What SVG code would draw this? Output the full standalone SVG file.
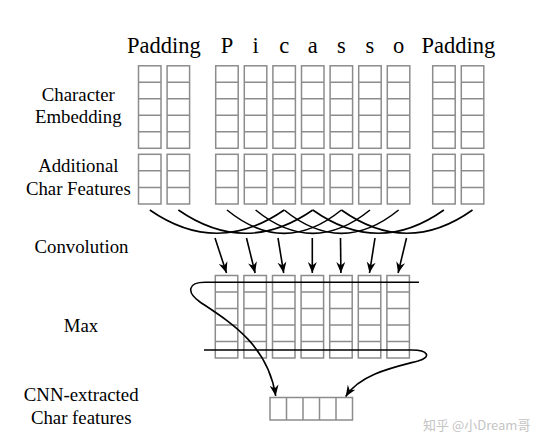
<svg xmlns="http://www.w3.org/2000/svg" xmlns:xlink="http://www.w3.org/1999/xlink" width="542" height="447" viewBox="0 0 542 447">
<style>
.cell{fill:none;stroke:#8c8c8c;stroke-width:1.5}
.lbl{font-family:"Liberation Serif","Times New Roman",serif;font-size:18.8px;fill:#000;text-anchor:middle}
.top{font-family:"Liberation Serif","Times New Roman",serif;font-size:22.5px;fill:#000;text-anchor:middle}
.conn{fill:none;stroke:#000;stroke-width:1.6}
.wm{font-family:"Noto Sans CJK SC","Noto Sans",sans-serif;font-size:13px;fill:#c4c4c4}
</style>
<defs>
<g id="col5" class="cell"><rect x="0" y="0" width="22.5" height="82.5"/><path d="M0,16.5H22.5M0,33H22.5M0,49.5H22.5M0,66H22.5"/></g>
<g id="col3" class="cell"><rect x="0" y="0" width="22.5" height="49.7"/><path d="M0,16.57H22.5M0,33.13H22.5"/></g>
<marker id="ah" viewBox="-11 -5 12 10" markerWidth="12" markerHeight="10" refX="0" refY="0" orient="auto" markerUnits="userSpaceOnUse">
<path d="M0,0 L-11,-4.5 L-7.5,0 L-11,4.5 Z" fill="#000"/>
</marker>
</defs>
<rect width="542" height="447" fill="#fff"/>

<g id="labels">
<text class="top" x="164" y="53.3">Padding</text>
<text class="top" x="227" y="53.3">P</text>
<text class="top" x="255.6" y="53.3">i</text>
<text class="top" x="284.2" y="53.3">c</text>
<text class="top" x="312.8" y="53.3">a</text>
<text class="top" x="341.4" y="53.3">s</text>
<text class="top" x="370" y="53.3">s</text>
<text class="top" x="398.6" y="53.3">o</text>
<text class="top" x="458.5" y="53.3">Padding</text>
<text class="lbl" x="78.3" y="100.7">Character</text>
<text class="lbl" x="78.3" y="123.3">Embedding</text>
<text class="lbl" x="78.3" y="171.7">Additional</text>
<text class="lbl" x="78.3" y="195">Char Features</text>
<text class="lbl" x="81.5" y="253.3">Convolution</text>
<text class="lbl" x="81" y="331.7">Max</text>
<text class="lbl" x="81.2" y="400.7">CNN-extracted</text>
<text class="lbl" x="81.2" y="424">Char features</text>
</g>

<g id="embedding">
<use xlink:href="#col5" x="138.5" y="65.8"/>
<use xlink:href="#col5" x="167.1" y="65.8"/>
<use xlink:href="#col5" x="215.7" y="65.8"/>
<use xlink:href="#col5" x="244.3" y="65.8"/>
<use xlink:href="#col5" x="272.9" y="65.8"/>
<use xlink:href="#col5" x="301.5" y="65.8"/>
<use xlink:href="#col5" x="330.1" y="65.8"/>
<use xlink:href="#col5" x="358.7" y="65.8"/>
<use xlink:href="#col5" x="387.3" y="65.8"/>
<use xlink:href="#col5" x="432.7" y="65.8"/>
<use xlink:href="#col5" x="461.3" y="65.8"/>
</g>

<g id="additional">
<use xlink:href="#col3" x="138.5" y="154.3"/>
<use xlink:href="#col3" x="167.1" y="154.3"/>
<use xlink:href="#col3" x="215.7" y="154.3"/>
<use xlink:href="#col3" x="244.3" y="154.3"/>
<use xlink:href="#col3" x="272.9" y="154.3"/>
<use xlink:href="#col3" x="301.5" y="154.3"/>
<use xlink:href="#col3" x="330.1" y="154.3"/>
<use xlink:href="#col3" x="358.7" y="154.3"/>
<use xlink:href="#col3" x="387.3" y="154.3"/>
<use xlink:href="#col3" x="432.7" y="154.3"/>
<use xlink:href="#col3" x="461.3" y="154.3"/>
</g>

<g id="convolution">
<use xlink:href="#col5" x="215.3" y="275.5"/>
<use xlink:href="#col5" x="243.9" y="275.5"/>
<use xlink:href="#col5" x="272.5" y="275.5"/>
<use xlink:href="#col5" x="301.1" y="275.5"/>
<use xlink:href="#col5" x="329.7" y="275.5"/>
<use xlink:href="#col5" x="358.3" y="275.5"/>
<use xlink:href="#col5" x="386.9" y="275.5"/>
</g>

<g id="cnn-output" class="cell">
<rect x="270" y="397.5" width="82.5" height="22.5"/>
<path d="M286.5,397.5V420M303,397.5V420M319.5,397.5V420M336,397.5V420"/>
</g>

<g id="connectors">
<path class="conn" d="M149.8,210 Q217,256.6 284.2,210"/>
<path class="conn" d="M178.4,210 Q245.6,256.6 312.8,210"/>
<path class="conn" d="M227,210 Q284.2,256.6 341.4,210"/>
<path class="conn" d="M255.6,210 Q312.8,256.6 370,210"/>
<path class="conn" d="M284.2,210 Q341.4,256.6 398.6,210"/>
<path class="conn" d="M312.8,210 Q378.3,256.6 443.9,210"/>
<path class="conn" d="M341.4,210 Q407,256.6 472.5,210"/>
<path class="conn" marker-end="url(#ah)" d="M215,238 L226.5,273"/>
<path class="conn" marker-end="url(#ah)" d="M246.5,238 L255.1,273"/>
<path class="conn" marker-end="url(#ah)" d="M278,238 L283.7,273"/>
<path class="conn" marker-end="url(#ah)" d="M312.3,238 L312.3,273"/>
<path class="conn" marker-end="url(#ah)" d="M340.5,238 L340.9,273"/>
<path class="conn" marker-end="url(#ah)" d="M375,238 L369.5,273"/>
<path class="conn" marker-end="url(#ah)" d="M406.5,238 L398.1,273"/>
<path class="conn" marker-end="url(#ah)" d="M419,282.3 H205 C188,282.3 186,292 200,302 C230,322 268,345 275.7,396"/>
<path class="conn" marker-end="url(#ah)" d="M204,350 H412 C428,350 432,357 418,361 C395,367 360,374 345.7,396.5"/>
</g>

<text class="wm" x="423" y="430">知乎 @小Dream哥</text>
</svg>
